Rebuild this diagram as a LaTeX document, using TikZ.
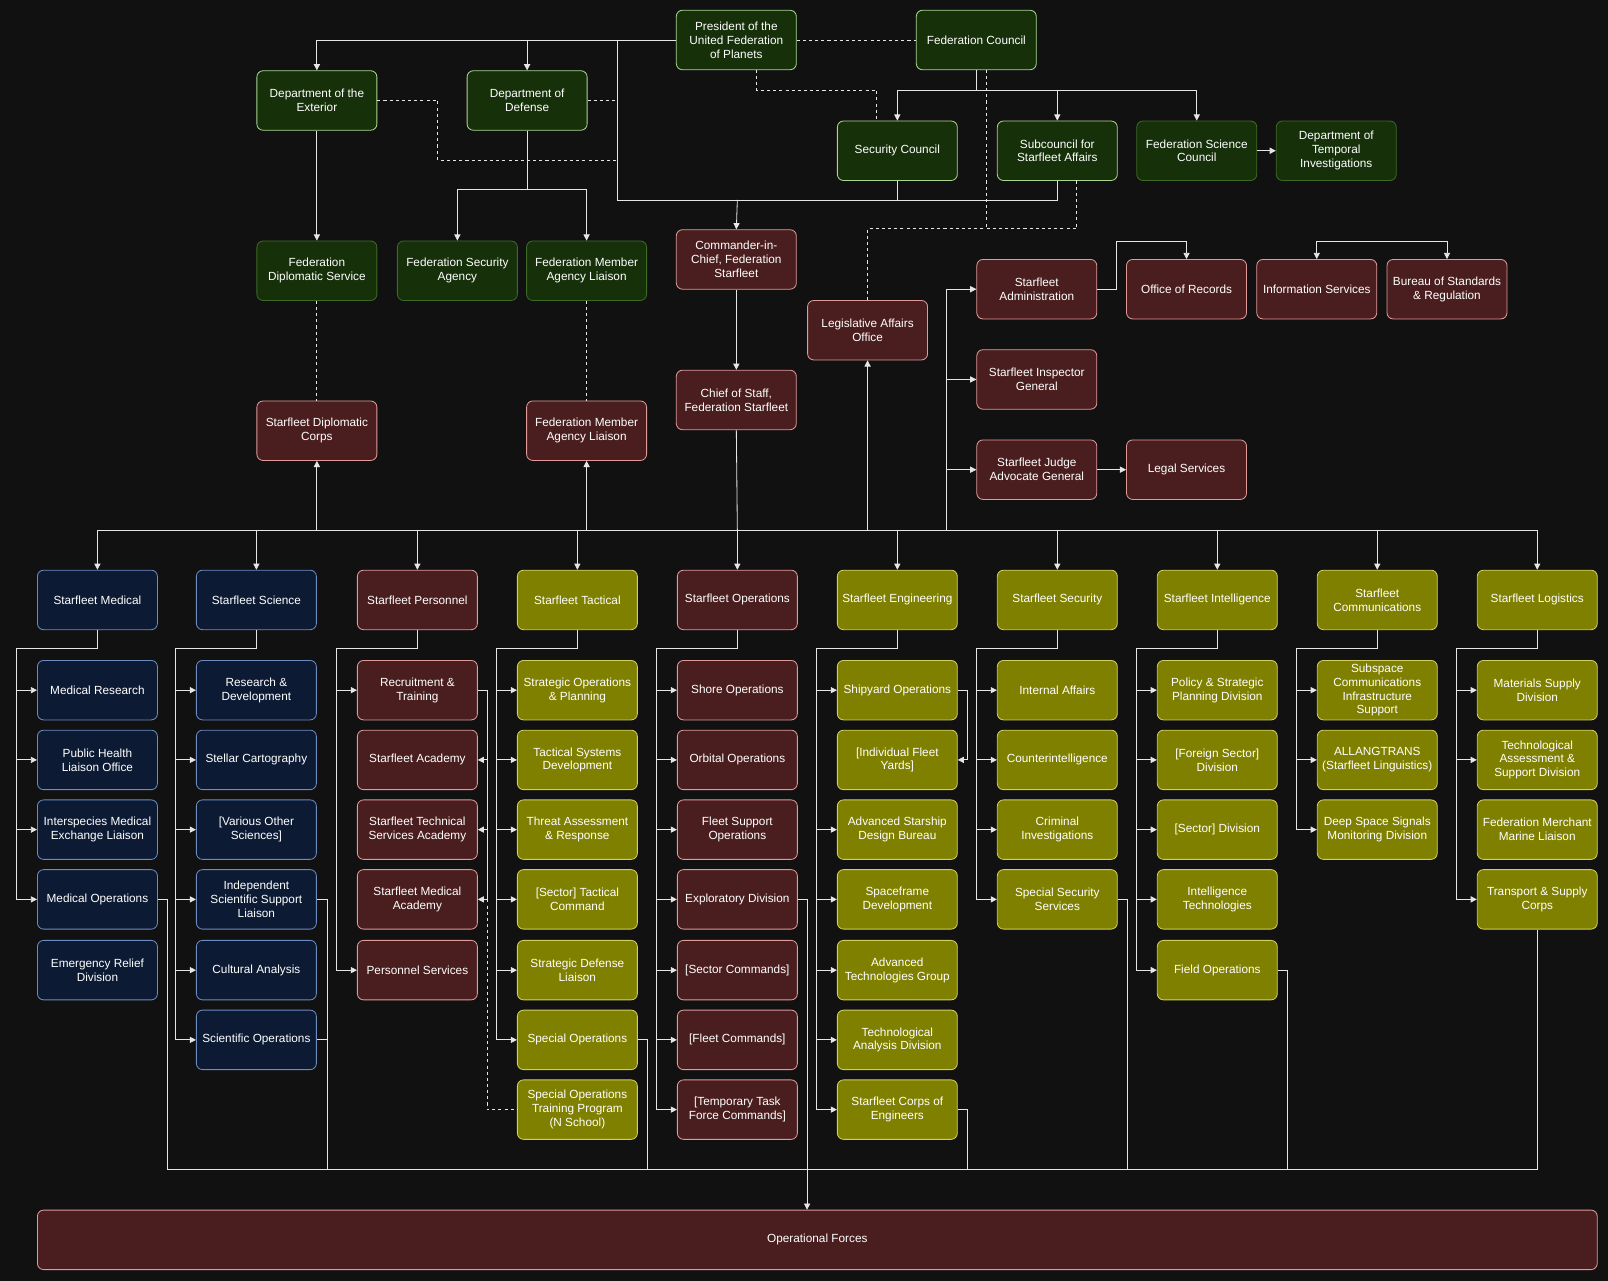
\documentclass[tikz,border=0pt]{standalone}
\usepackage{fontspec}
\setmainfont{Liberation Sans}
\usetikzlibrary{arrows.meta,calc}
\definecolor{bg}{HTML}{111111}
\definecolor{gf}{HTML}{16300A}\definecolor{gd}{HTML}{A8D890}\definecolor{gd2}{HTML}{3D6B25}
\definecolor{rf}{HTML}{4A1E1E}\definecolor{rd}{HTML}{E09A9A}
\definecolor{bf}{HTML}{0C1B33}\definecolor{bd}{HTML}{6A8CC0}
\definecolor{of}{HTML}{808000}\definecolor{od}{HTML}{D0D060}
\definecolor{ln}{HTML}{E6E6E6}
\tikzset{
 box/.style={rounded corners=6pt,minimum width=117pt,minimum height=58pt,align=center,inner sep=1pt,text=white,font=\fontsize{11.5}{13.5}\selectfont,line width=0.8pt},
 gb/.style={box,fill=gf,draw=gd},
 gb2/.style={box,fill=gf,draw=gd2},
 rb/.style={box,fill=rf,draw=rd},
 bb/.style={box,fill=bf,draw=bd},
 ob/.style={box,fill=of,draw=od},
 wire/.style={draw=ln,line width=0.8pt},
 arr/.style={wire,-{Triangle[width=6pt,length=6pt]}},
 dsh/.style={wire,dash pattern=on 3pt off 3pt},
}
\begin{document}
\begin{tikzpicture}[x=1pt,y=-1pt]
\fill[bg] (0,0) rectangle (1568,1249);
\useasboundingbox (0,0) rectangle (1568,1249);
% top
\node[gb] (pres) at (718,39) {President of the\\United Federation\\of Planets};
\node[gb] (council) at (952,39) {Federation Council};
\node[gb] (ext) at (309,98) {Department of the\\Exterior};
\node[gb] (def) at (514,98) {Department of\\Defense};
\node[gb] (sec) at (875,147) {Security Council};
\node[gb] (sub) at (1031,147) {Subcouncil for\\Starfleet Affairs};
\node[gb2] (fsc) at (1167,147) {Federation Science\\Council};
\node[gb2] (dti) at (1303,147) {Department of\\Temporal\\Investigations};
\node[gb2] (fds) at (309,264) {Federation\\Diplomatic Service};
\node[gb2] (fsa) at (446,264) {Federation Security\\Agency};
\node[gb2] (fmal) at (572,264) {Federation Member\\Agency Liaison};
\node[rb] (cic) at (718,253) {Commander-in-\\Chief, Federation\\Starfleet};
\node[rb] (lao) at (846,322) {Legislative Affairs\\Office};
\node[rb] (sfa) at (1011,282) {Starfleet\\Administration};
\node[rb] (oor) at (1157,282) {Office of Records};
\node[rb] (is) at (1284,282) {Information Services};
\node[rb] (bsr) at (1411,282) {Bureau of Standards\\\& Regulation};
\node[rb] (sig) at (1011,370) {Starfleet Inspector\\General};
\node[rb] (sjag) at (1011,458) {Starfleet Judge\\Advocate General};
\node[rb] (legal) at (1157,458) {Legal Services};
\node[rb] (cos) at (718,390) {Chief of Staff,\\Federation Starfleet};
\node[rb] (sdc) at (309,420) {Starfleet Diplomatic\\Corps};
\node[rb] (fmal2) at (572,420) {Federation Member\\Agency Liaison};
\node[rb,minimum width=1521pt] (opf) at (797,1209) {Operational Forces};
% top connectors
\draw[dsh] (pres.east) -- (council.west);
\draw[arr] (pres.west) -| (ext.north);
\draw[arr] (514,39) -- (def.north);
\draw[wire] (602,39) -- (602,195) -| (sub.south);
\draw[wire] (sec.south) -- (875,195);
\draw[arr] (719,195) -- (cic.north);
\draw[wire] (council.south) -- (952,88);
\draw[arr] (875,88) -| (sec.north);
\draw[arr] (875,88) -| (sub.north);
\draw[arr] (875,88) -| (fsc.north);
\draw[dsh] (738,68) -- (738,88) -- (855,88) -- (855,118);
\draw[dsh] (962,68) -- (962,223);
\draw[dsh] (1050,176) -- (1050,223) -- (846,223) -- (lao.north);
\draw[arr] (fsc.east) -- (dti.west);
\draw[dsh] (ext.east) -- (427,98) -- (427,156) -- (602,156);
\draw[dsh] (def.east) -- (602,98);
\draw[arr] (ext.south) -- (fds.north);
\draw[wire] (def.south) -- (514,185);
\draw[arr] (446,185) -- (fsa.north);
\draw[arr] (446,185) -| (fmal.north);
\draw[dsh] (fds.south) -- (sdc.north);
\draw[dsh] (fmal.south) -- (fmal2.north);
\draw[arr] (cic.south) -- (cos.north);
\draw[arr] (sfa.east) -- (1089,282) -- (1089,235) -| (oor.north);
\draw[arr] (1284,235) -- (is.north);
\draw[arr] (1284,235) -| (bsr.north);
\draw[arr] (sjag.east) -- (legal.west);
% divisions
\foreach \n/\x/\s/\t in {mh/95/bb/Starfleet Medical,sh/250/bb/Starfleet Science,ph/407/rb/Starfleet Personnel,th/563/ob/Starfleet Tactical,oh/719/rb/Starfleet Operations,eh/875/ob/Starfleet Engineering,ch/1031/ob/Starfleet Security,ih/1187/ob/Starfleet Intelligence,kh/1343/ob/{Starfleet\\Communications},lh/1499/ob/Starfleet Logistics}
 {\node[\s] (\n) at (\x,585) {\t}; \draw[arr] (\x,517) -- (\n.north);}
\draw[wire] (95,517) -- (1499,517);
\draw[wire] (cos.south) -- (719,517);
\draw[arr] (309,517) -- (sdc.south);
\draw[arr] (572,517) -- (fmal2.south);
\draw[arr] (846,517) -- (lao.south);
\draw[wire] (923,517) -- (923,282);
\draw[arr] (923,282) -- (sfa.west);
\draw[arr] (923,370) -- (sig.west);
\draw[arr] (923,458) -- (sjag.west);
% items
\newcommand\itm[6]{\node[#4] (#1) at (#2,#3) {#6};
 \draw[arr] (#5.south) -- ++(0,18) -| ([xshift=-20pt]#1.west) -- (#1.west);}
\def\ra{673}\def\rb{741}\def\rc{809}\def\rd{877}\def\re{946}\def\rf{1014}\def\rg{1082}
\itm{m1}{95}{\ra}{bb}{mh}{Medical Research}
\itm{m2}{95}{\rb}{bb}{mh}{Public Health\\Liaison Office}
\itm{m3}{95}{\rc}{bb}{mh}{Interspecies Medical\\Exchange Liaison}
\itm{m4}{95}{\rd}{bb}{mh}{Medical Operations}
\node[bb] (m5) at (95,\re) {Emergency Relief\\Division};
\itm{s1}{250}{\ra}{bb}{sh}{Research \&\\Development}
\itm{s2}{250}{\rb}{bb}{sh}{Stellar Cartography}
\itm{s3}{250}{\rc}{bb}{sh}{[Various Other\\Sciences]}
\itm{s4}{250}{\rd}{bb}{sh}{Independent\\Scientific Support\\Liaison}
\itm{s5}{250}{\re}{bb}{sh}{Cultural Analysis}
\itm{s6}{250}{\rf}{bb}{sh}{Scientific Operations}
\itm{p1}{407}{\ra}{rb}{ph}{Recruitment \&\\Training}
\node[rb] (p2) at (407,\rb) {Starfleet Academy};
\node[rb] (p3) at (407,\rc) {Starfleet Technical\\Services Academy};
\node[rb] (p4) at (407,\rd) {Starfleet Medical\\Academy};
\itm{p5}{407}{\re}{rb}{ph}{Personnel Services}
\itm{t1}{563}{\ra}{ob}{th}{Strategic Operations\\\& Planning}
\itm{t2}{563}{\rb}{ob}{th}{Tactical Systems\\Development}
\itm{t3}{563}{\rc}{ob}{th}{Threat Assessment\\\& Response}
\itm{t4}{563}{\rd}{ob}{th}{[Sector] Tactical\\Command}
\itm{t5}{563}{\re}{ob}{th}{Strategic Defense\\Liaison}
\itm{t6}{563}{\rf}{ob}{th}{Special Operations}
\node[ob] (t7) at (563,\rg) {Special Operations\\Training Program\\(N School)};
\itm{o1}{719}{\ra}{rb}{oh}{Shore Operations}
\itm{o2}{719}{\rb}{rb}{oh}{Orbital Operations}
\itm{o3}{719}{\rc}{rb}{oh}{Fleet Support\\Operations}
\itm{o4}{719}{\rd}{rb}{oh}{Exploratory Division}
\itm{o5}{719}{\re}{rb}{oh}{[Sector Commands]}
\itm{o6}{719}{\rf}{rb}{oh}{[Fleet Commands]}
\itm{o7}{719}{\rg}{rb}{oh}{[Temporary Task\\Force Commands]}
\itm{e1}{875}{\ra}{ob}{eh}{Shipyard Operations}
\node[ob] (e2) at (875,\rb) {[Individual Fleet\\Yards]};
\itm{e3}{875}{\rc}{ob}{eh}{Advanced Starship\\Design Bureau}
\itm{e4}{875}{\rd}{ob}{eh}{Spaceframe\\Development}
\itm{e5}{875}{\re}{ob}{eh}{Advanced\\Technologies Group}
\itm{e6}{875}{\rf}{ob}{eh}{Technological\\Analysis Division}
\itm{e7}{875}{\rg}{ob}{eh}{Starfleet Corps of\\Engineers}
\itm{c1}{1031}{\ra}{ob}{ch}{Internal Affairs}
\itm{c2}{1031}{\rb}{ob}{ch}{Counterintelligence}
\itm{c3}{1031}{\rc}{ob}{ch}{Criminal\\Investigations}
\itm{c4}{1031}{\rd}{ob}{ch}{Special Security\\Services}
\itm{i1}{1187}{\ra}{ob}{ih}{Policy \& Strategic\\Planning Division}
\itm{i2}{1187}{\rb}{ob}{ih}{[Foreign Sector]\\Division}
\itm{i3}{1187}{\rc}{ob}{ih}{[Sector] Division}
\itm{i4}{1187}{\rd}{ob}{ih}{Intelligence\\Technologies}
\itm{i5}{1187}{\re}{ob}{ih}{Field Operations}
\itm{k1}{1343}{\ra}{ob}{kh}{Subspace\\Communications\\Infrastructure\\Support}
\itm{k2}{1343}{\rb}{ob}{kh}{ALLANGTRANS\\(Starfleet Linguistics)}
\itm{k3}{1343}{\rc}{ob}{kh}{Deep Space Signals\\Monitoring Division}
\itm{l1}{1499}{\ra}{ob}{lh}{Materials Supply\\Division}
\itm{l2}{1499}{\rb}{ob}{lh}{Technological\\Assessment \&\\Support Division}
\node[ob] (l3) at (1499,\rc) {Federation Merchant\\Marine Liaison};
\itm{l4}{1499}{\rd}{ob}{lh}{Transport \& Supply\\Corps}
% extra links
\draw[wire] (p1.east) -- (475,\ra) -- (475,\rd);
\draw[arr] (475,\rb) -- (p2.east);
\draw[arr] (475,\rc) -- (p3.east);
\draw[arr] (475,\rd) -- (p4.east);
\draw[dsh] (475,\rd) -- (475,\rg) -- (t7.west);
\draw[arr] (e1.east) -- (943,\ra) -- (943,\rb) -- (e2.east);
% operational forces bus
\draw[wire] (m4.east) -- (163,\rd) -- (163,1140) -- (1499,1140) -- (l4.south);
\draw[wire] (s4.east) -- (319,\rd) -- (319,1140);
\draw[wire] (s6.east) -- (319,\rf);
\draw[wire] (t6.east) -- (631,\rf) -- (631,1140);
\draw[arr] (o4.east) -- (787,\rd) -- (787,1140) -- (opf.north -| 787,0);
\draw[wire] (e7.east) -- (943,\rg) -- (943,1140);
\draw[wire] (c4.east) -- (1099,\rd) -- (1099,1140);
\draw[wire] (i5.east) -- (1255,\re) -- (1255,1140);
\end{tikzpicture}
\end{document}
